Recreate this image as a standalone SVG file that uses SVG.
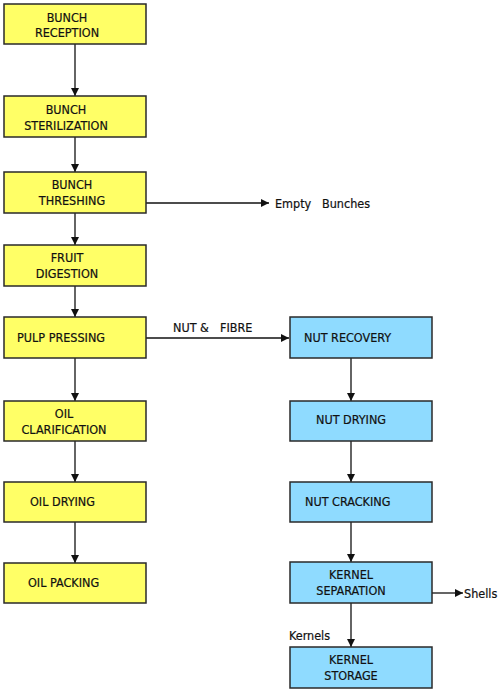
<svg xmlns="http://www.w3.org/2000/svg" width="500" height="691" viewBox="0 0 500 691">
<style>
.y{fill:#FFFF66;stroke:#2a2a2a;stroke-width:1.5}
.b{fill:#8FDBFF;stroke:#2a2a2a;stroke-width:1.5}
text{font-family:"DejaVu Sans Condensed","Liberation Sans",sans-serif;font-size:12.5px;fill:#111;stroke:#111;stroke-width:0.2}
.c{text-anchor:middle}
.ln{stroke:#111;stroke-width:1.3;fill:none}
</style>
<defs>
<marker id="ah" markerWidth="10" markerHeight="10" refX="8" refY="5" orient="auto" markerUnits="userSpaceOnUse">
<path d="M0,1 L8,5 L0,9 Z" fill="#111"/>
</marker>
</defs>
<g id="connectors">
<line class="ln" x1="75" y1="44" x2="75" y2="96" marker-end="url(#ah)"/>
<line class="ln" x1="75" y1="137" x2="75" y2="172" marker-end="url(#ah)"/>
<line class="ln" x1="75" y1="213" x2="75" y2="245" marker-end="url(#ah)"/>
<line class="ln" x1="75" y1="286" x2="75" y2="317" marker-end="url(#ah)"/>
<line class="ln" x1="75" y1="358" x2="75" y2="401" marker-end="url(#ah)"/>
<line class="ln" x1="75" y1="441" x2="75" y2="482" marker-end="url(#ah)"/>
<line class="ln" x1="75" y1="522" x2="75" y2="563" marker-end="url(#ah)"/>
<line class="ln" x1="146" y1="203" x2="269" y2="203" marker-end="url(#ah)"/>
<text x="275" y="208">Empty</text><text x="322" y="208">Bunches</text>
<line class="ln" x1="146" y1="338" x2="289" y2="338" marker-end="url(#ah)"/>
<text x="173" y="332">NUT &amp;</text><text x="220" y="332">FIBRE</text>
<line class="ln" x1="351" y1="358" x2="351" y2="401" marker-end="url(#ah)"/>
<line class="ln" x1="351" y1="441" x2="351" y2="482" marker-end="url(#ah)"/>
<line class="ln" x1="351" y1="522" x2="351" y2="562" marker-end="url(#ah)"/>
<line class="ln" x1="432" y1="593" x2="463" y2="593" marker-end="url(#ah)"/>
<text x="464" y="598">Shells</text>
<line class="ln" x1="351" y1="603" x2="351" y2="647" marker-end="url(#ah)"/>
<text x="289" y="640">Kernels</text>
</g>
<g id="bunch-reception"><rect class="y" x="4" y="4" width="142" height="40"/><text class="c" x="67" y="22">BUNCH</text><text class="c" x="67" y="37">RECEPTION</text></g>
<g id="bunch-sterilization"><rect class="y" x="4" y="96" width="142" height="41"/><text class="c" x="66" y="114">BUNCH</text><text class="c" x="66" y="130">STERILIZATION</text></g>
<g id="bunch-threshing"><rect class="y" x="4" y="172" width="142" height="41"/><text class="c" x="72" y="189">BUNCH</text><text class="c" x="72" y="205">THRESHING</text></g>
<g id="fruit-digestion"><rect class="y" x="4" y="245" width="142" height="41"/><text class="c" x="67" y="262">FRUIT</text><text class="c" x="67" y="278">DIGESTION</text></g>
<g id="pulp-pressing"><rect class="y" x="4" y="317" width="142" height="41"/><text x="17" y="342">PULP PRESSING</text></g>
<g id="oil-clarification"><rect class="y" x="4" y="401" width="142" height="40"/><text class="c" x="64" y="418">OIL</text><text class="c" x="64" y="434">CLARIFICATION</text></g>
<g id="oil-drying"><rect class="y" x="4" y="482" width="142" height="40"/><text x="30" y="506">OIL DRYING</text></g>
<g id="oil-packing"><rect class="y" x="4" y="563" width="142" height="40"/><text x="28" y="587">OIL PACKING</text></g>
<g id="nut-recovery"><rect class="b" x="290" y="317" width="142" height="41"/><text x="304" y="342">NUT RECOVERY</text></g>
<g id="nut-drying"><rect class="b" x="290" y="401" width="142" height="40"/><text x="316" y="424">NUT DRYING</text></g>
<g id="nut-cracking"><rect class="b" x="290" y="482" width="142" height="40"/><text x="305" y="506">NUT CRACKING</text></g>
<g id="kernel-separation"><rect class="b" x="290" y="562" width="142" height="41"/><text class="c" x="351" y="579">KERNEL</text><text class="c" x="351" y="595">SEPARATION</text></g>
<g id="kernel-storage"><rect class="b" x="290" y="647" width="142" height="41"/><text class="c" x="351" y="664">KERNEL</text><text class="c" x="351" y="680">STORAGE</text></g>
</svg>
